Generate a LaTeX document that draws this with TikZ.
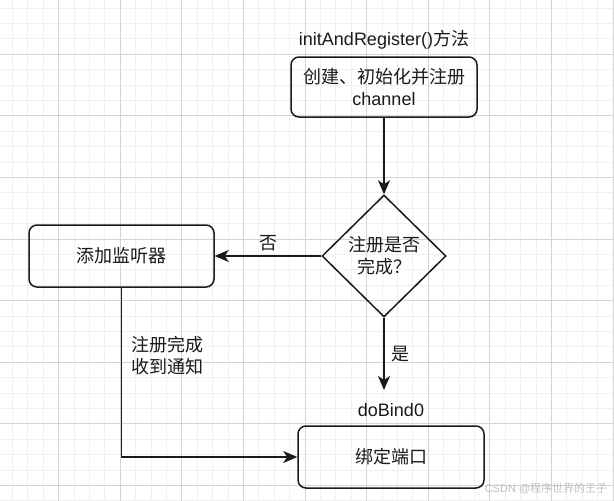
\documentclass[tikz,border=0pt]{standalone}
\usepackage{fontspec}
\setmainfont{Liberation Sans}
\newfontfamily\cjk{Noto Sans CJK SC}
\usepackage{tikz}
\usetikzlibrary{shapes.geometric}
\usetikzlibrary{arrows.meta}
\definecolor{gridminor}{HTML}{F0F0F0}
\definecolor{gridmajor}{HTML}{D4D4D4}
\definecolor{ink}{HTML}{1A1A1A}
\tikzset{procbox/.style={draw=ink, rounded corners=8pt, line width=1.5pt, minimum width=186pt, minimum height=62pt, align=center}}
\tikzset{decbox/.style={draw=ink, diamond, line width=1.5pt, minimum width=124pt, minimum height=122pt, inner sep=0pt, align=center}}
\tikzset{flow/.style={draw=ink, line width=1.5pt, -{Stealth[length=14pt, width=12pt, inset=4pt]}}}

\begin{document}
\begin{tikzpicture}[x=1pt, y=-1pt, every node/.style={font=\fontsize{18}{22}\selectfont, text=ink}]
  \useasboundingbox (0,0) rectangle (614,501);
  % grid
  \begin{scope}
  \clip (0,0) rectangle (614,501);
  \fill[white] (0,0) rectangle (614,501);
  \foreach \k in {0,...,41} {
    \draw[gridminor, line width=1pt] ({-2.9+15.4*\k},0) -- ++(0,501);
    \draw[gridminor, line width=1pt] (0,{-7.3+15.4*\k}) -- ++(614,0);
  }
  \foreach \k in {0,...,10} {
    \draw[gridmajor, line width=1pt] ({-2.9+61.6*\k},0) -- ++(0,501);
    \draw[gridmajor, line width=1pt] (0,{-7.3+61.6*\k}) -- ++(614,0);
  }
  \end{scope}

  \node at (384, 40) (title) {initAndRegister(){\cjk 方法}};
  \node[procbox, minimum height=60pt] at (384, 87) (init) {{\cjk 创建、初始化并注册}\\channel};
  \node[decbox, baseline=0pt] at (384, 256) (check) {\cjk 注册是否\\\cjk 完成？};
  \node[procbox, minimum width=185pt] at (121.5, 256) (listen) {\cjk 添加监听器};
  \node[procbox] at (391, 457) (bind) {\cjk 绑定端口};
  \node at (391, 410) (dobind) {doBind0};
  \coordinate (bindin) at (384, 390);

  \draw (init) edge[flow] (check);
  \draw (check) edge[flow] node[above=1pt] {\cjk 否} (listen);
  \draw (check) edge[flow] node[right=3pt] {\cjk 是} (bindin);
  \draw[flow] (listen) |- node[pos=0.2, right=6pt, align=left] {\cjk 注册完成\\\cjk 收到通知} (bind);

  \node[font=\fontsize{11}{13}\selectfont, text=black!25] at (546, 489) (mark) {CSDN @{\cjk 程序世界的王子}};
\end{tikzpicture}
\end{document}
